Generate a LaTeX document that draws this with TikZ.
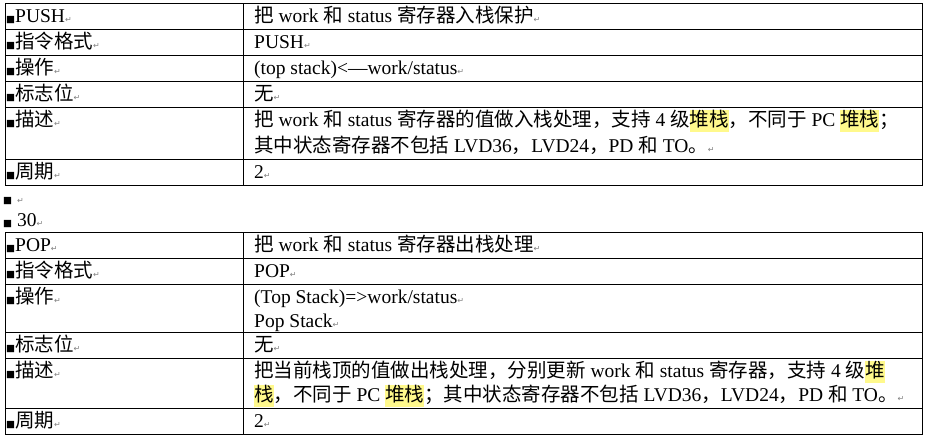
\documentclass[tikz,border=0pt]{standalone}
\usepackage{fontspec}
\setmainfont{Liberation Serif}
\newfontfamily\cjk{Noto Sans CJK SC}
\newfontfamily\djv{DejaVu Sans}
\newcommand{\zh}[1]{{\cjk\fontsize{19.5}{20}\selectfont #1}}
\newcommand{\rt}{{\color{gray}\djv\fontsize{8}{8}\selectfont ↵}}
\newcommand{\bl}{{\djv\fontsize{9.5}{9}\selectfont ■}}
\newcommand{\hl}[1]{{\setlength{\fboxsep}{0pt}\colorbox{yellow!45}{\strut\zh{#1}}}}
\begin{document}
\begin{tikzpicture}[x=1pt,y=-1pt,
  t/.style={anchor=base west,inner sep=0pt,font=\fontsize{19.5}{20}\selectfont},
  g/.style={line width=1pt}]
\useasboundingbox (0,0) rectangle (926,440);
% table 1
\draw[g] (5,3) rectangle (922,185);
\foreach \y in {29,55,81,107,159} \draw[g] (5,\y) -- (922,\y);
\draw[g] (243,3) -- (243,185);
% table 2
\draw[g] (5,232) rectangle (922,434);
\foreach \y in {258,284,332,358,408} \draw[g] (5,\y) -- (922,\y);
\draw[g] (243,232) -- (243,434);
% left column table 1
\node[t] (a1) at (6,22) {\bl PUSH\rt};
\node[t] (a2) at (6,48) {\bl\zh{指令格式}\rt};
\node[t] (a3) at (6,74) {\bl\zh{操作}\rt};
\node[t] (a4) at (6,100) {\bl\zh{标志位}\rt};
\node[t] (a5) at (6,126) {\bl\zh{描述}\rt};
\node[t] (a6) at (6,178) {\bl\zh{周期}\rt};
% right column table 1
\node[t] (b1) at (254,22) {\zh{把} work \zh{和} status \zh{寄存器入栈保护}\rt};
\node[t] (b2) at (254,48) {PUSH\rt};
\node[t] (b3) at (254,74) {(top stack)<—work/status\rt};
\node[t] (b4) at (254,100) {\zh{无}\rt};
\node[t] (b5) at (254,126) {\zh{把} work \zh{和} status \zh{寄存器的值做入栈处理，支持} 4 \zh{级}\hl{堆栈}\zh{，不同于} PC \hl{堆栈}\zh{；}};
\node[t] (b5b) at (254,152) {\zh{其中状态寄存器不包括} LVD36\zh{，}LVD24\zh{，}PD \zh{和} TO\zh{。}\rt};
\node[t] (b6) at (254,178) {2\rt};
% between
\node[t] (m1) at (3,203) {\bl\ \rt};
\node[t] (m2) at (3,226) {\bl\ 30\rt};
% table 2 left
\node[t] (c1) at (6,251) {\bl POP\rt};
\node[t] (c2) at (6,277) {\bl\zh{指令格式}\rt};
\node[t] (c3) at (6,303) {\bl\zh{操作}\rt};
\node[t] (c4) at (6,351) {\bl\zh{标志位}\rt};
\node[t] (c5) at (6,377) {\bl\zh{描述}\rt};
\node[t] (c6) at (6,427) {\bl\zh{周期}\rt};
% table 2 right
\node[t] (d1) at (254,251) {\zh{把} work \zh{和} status \zh{寄存器出栈处理}\rt};
\node[t] (d2) at (254,277) {POP\rt};
\node[t] (d3) at (254,303) {(Top Stack)=>work/status\rt};
\node[t] (d3b) at (254,327) {Pop Stack\rt};
\node[t] (d4) at (254,351) {\zh{无}\rt};
\node[t] (d5) at (254,377) {\zh{把当前栈顶的值做出栈处理，分别更新} work \zh{和} status \zh{寄存器，支持} 4 \zh{级}\hl{堆}};
\node[t] (d5b) at (254,401) {\hl{栈}\zh{，不同于} PC \hl{堆栈}\zh{；其中状态寄存器不包括} LVD36\zh{，}LVD24\zh{，}PD \zh{和} TO\zh{。}\rt};
\node[t] (d6) at (254,427) {2\rt};
\end{tikzpicture}
\end{document}
